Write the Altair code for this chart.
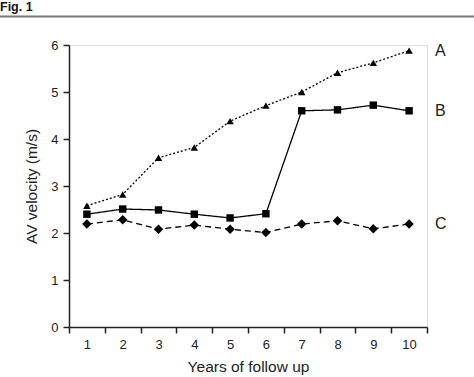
import altair as alt
import pandas as pd

years = [str(i) for i in range(1, 11)]
series_a = [2.58, 2.82, 3.60, 3.82, 4.38, 4.71, 5.00, 5.41, 5.62, 5.88]
series_b = [2.40, 2.51, 2.49, 2.40, 2.32, 2.41, 4.60, 4.62, 4.72, 4.60]
series_c = [2.19, 2.28, 2.08, 2.17, 2.08, 2.01, 2.19, 2.26, 2.09, 2.19]
labels = ["A", "B", "C"]

all_series = {"A": series_a, "B": series_b, "C": series_c}
rows = []
for name, vals in all_series.items():
    for yr, v in zip(years, vals):
        rows.append({"year": yr, "v": v, "s": name})
df = pd.DataFrame(rows)
lab_df = pd.DataFrame({"s": labels, "year": [years[-1]] * 3,
                       "v": [all_series[k][-1] for k in labels]})

FONT = "Liberation Sans"
xenc = alt.X("year:O", sort=years, title="Years of follow up",
             scale=alt.Scale(paddingInner=0, paddingOuter=0),
             axis=alt.Axis(labelAngle=0, tickBand="extent", labelFontSize=13,
                           titleFontSize=15.5, titleFontWeight="normal",
                           labelColor="#222", titleColor="#222",
                           domainColor="#222", tickColor="#222",
                           domainWidth=1.5, tickWidth=1.5, tickSize=6,
                           labelPadding=5, titlePadding=8, labelFont=FONT, titleFont=FONT))
yenc = alt.Y("v:Q", title="AV velocity (m/s)",
             scale=alt.Scale(domain=[0, 6], nice=False),
             axis=alt.Axis(values=[0, 1, 2, 3, 4, 5, 6], grid=False, labelFontSize=13,
                           titleFontSize=15.5, titleFontWeight="normal",
                           labelColor="#222", titleColor="#222",
                           domainColor="#222", tickColor="#222",
                           domainWidth=1.5, tickWidth=1.5, tickSize=6,
                           labelPadding=5, titlePadding=11, labelFont=FONT, titleFont=FONT))

styles = {"A": ([2, 2], "triangle-up", 55),
          "B": ([1, 0], "square", 55),
          "C": ([6, 4], "diamond", 90)}
layers = []
for name in labels:
    dash, shape, size = styles[name]
    sub = df[df.s == name]
    base = alt.Chart(sub)
    layers.append(base.mark_line(color="black", strokeWidth=1.3, strokeDash=dash).encode(x=xenc, y=yenc))
    layers.append(base.mark_point(shape=shape, filled=True, color="black", opacity=1, size=size).encode(x=xenc, y=yenc))

text = alt.Chart(lab_df).mark_text(align="left", dx=26, fontSize=16, font=FONT, color="#222").encode(
    x=xenc, y=yenc, text="s:N")

fig = alt.Chart(pd.DataFrame({"t": ["Fig. 1"]})).mark_text(
    align="left", baseline="alphabetic", fontSize=12.5, fontWeight="bold", font=FONT, color="#111"
).encode(x=alt.value(-69), y=alt.value(-34), text="t:N")

rule = alt.Chart(pd.DataFrame({"a": [0]})).mark_rule(color="#777", strokeWidth=2).encode(
    x=alt.value(-69), x2=alt.value(405), y=alt.value(-28.5))

chart = alt.layer(*layers, text, fig, rule).properties(
    width=358, height=282,
    autosize=alt.AutoSizeParams(type="none"),
    padding={"left": 69, "top": 45, "right": 47, "bottom": 50},
).configure_view(stroke=None).configure(background="white")

chart.save("out.html", embed_options={"renderer": "svg", "actions": False})
